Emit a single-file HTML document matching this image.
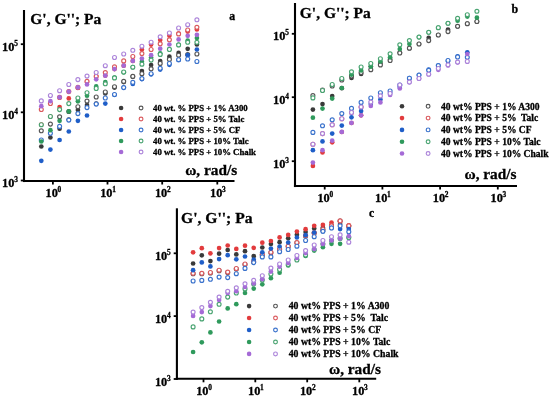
<!DOCTYPE html>
<html><head><meta charset="utf-8"><style>
html,body{margin:0;padding:0;background:#fff;}
svg{display:block;will-change:transform;}
text{font-family:"Liberation Serif", serif;font-weight:bold;fill:#000;stroke:#000;stroke-width:0.3px;}
</style></head><body>
<svg width="550" height="398" viewBox="0 0 550 398">
<circle cx="41.3" cy="146.5" r="2.35" fill="#3a3a3a"/>
<circle cx="50.4" cy="137.5" r="2.35" fill="#3a3a3a"/>
<circle cx="59.6" cy="128.7" r="2.35" fill="#3a3a3a"/>
<circle cx="68.8" cy="119.5" r="2.35" fill="#3a3a3a"/>
<circle cx="77.9" cy="110.1" r="2.35" fill="#3a3a3a"/>
<circle cx="87.0" cy="105.1" r="2.35" fill="#3a3a3a"/>
<circle cx="96.2" cy="103.5" r="2.35" fill="#3a3a3a"/>
<circle cx="105.3" cy="93.5" r="2.35" fill="#3a3a3a"/>
<circle cx="114.5" cy="87.6" r="2.35" fill="#3a3a3a"/>
<circle cx="123.7" cy="82.1" r="2.35" fill="#3a3a3a"/>
<circle cx="132.8" cy="76.6" r="2.35" fill="#3a3a3a"/>
<circle cx="141.9" cy="71.1" r="2.35" fill="#3a3a3a"/>
<circle cx="151.1" cy="65.0" r="2.35" fill="#3a3a3a"/>
<circle cx="160.2" cy="61.0" r="2.35" fill="#3a3a3a"/>
<circle cx="169.4" cy="56.7" r="2.35" fill="#3a3a3a"/>
<circle cx="178.6" cy="52.9" r="2.35" fill="#3a3a3a"/>
<circle cx="187.7" cy="48.8" r="2.35" fill="#3a3a3a"/>
<circle cx="196.9" cy="44.5" r="2.35" fill="#3a3a3a"/>
<circle cx="41.3" cy="130.8" r="1.98" fill="#fff" stroke="#555555" stroke-width="1.15"/>
<circle cx="50.4" cy="124.1" r="1.98" fill="#fff" stroke="#555555" stroke-width="1.15"/>
<circle cx="59.6" cy="116.8" r="1.98" fill="#fff" stroke="#555555" stroke-width="1.15"/>
<circle cx="68.8" cy="111.5" r="1.98" fill="#fff" stroke="#555555" stroke-width="1.15"/>
<circle cx="77.9" cy="106.7" r="1.98" fill="#fff" stroke="#555555" stroke-width="1.15"/>
<circle cx="87.0" cy="101.1" r="1.98" fill="#fff" stroke="#555555" stroke-width="1.15"/>
<circle cx="96.2" cy="97.0" r="1.98" fill="#fff" stroke="#555555" stroke-width="1.15"/>
<circle cx="105.3" cy="92.0" r="1.98" fill="#fff" stroke="#555555" stroke-width="1.15"/>
<circle cx="114.5" cy="86.7" r="1.98" fill="#fff" stroke="#555555" stroke-width="1.15"/>
<circle cx="123.7" cy="81.4" r="1.98" fill="#fff" stroke="#555555" stroke-width="1.15"/>
<circle cx="132.8" cy="76.4" r="1.98" fill="#fff" stroke="#555555" stroke-width="1.15"/>
<circle cx="141.9" cy="73.7" r="1.98" fill="#fff" stroke="#555555" stroke-width="1.15"/>
<circle cx="151.1" cy="68.8" r="1.98" fill="#fff" stroke="#555555" stroke-width="1.15"/>
<circle cx="160.2" cy="63.4" r="1.98" fill="#fff" stroke="#555555" stroke-width="1.15"/>
<circle cx="169.4" cy="59.4" r="1.98" fill="#fff" stroke="#555555" stroke-width="1.15"/>
<circle cx="178.6" cy="55.2" r="1.98" fill="#fff" stroke="#555555" stroke-width="1.15"/>
<circle cx="187.7" cy="54.6" r="1.98" fill="#fff" stroke="#555555" stroke-width="1.15"/>
<circle cx="196.9" cy="54.0" r="1.98" fill="#fff" stroke="#555555" stroke-width="1.15"/>
<circle cx="41.3" cy="124.7" r="2.35" fill="#e23b3d"/>
<circle cx="50.4" cy="116.5" r="2.35" fill="#e23b3d"/>
<circle cx="59.6" cy="107.0" r="2.35" fill="#e23b3d"/>
<circle cx="68.8" cy="98.4" r="2.35" fill="#e23b3d"/>
<circle cx="77.9" cy="88.0" r="2.35" fill="#e23b3d"/>
<circle cx="87.0" cy="82.0" r="2.35" fill="#e23b3d"/>
<circle cx="96.2" cy="76.1" r="2.35" fill="#e23b3d"/>
<circle cx="105.3" cy="75.6" r="2.35" fill="#e23b3d"/>
<circle cx="114.5" cy="69.1" r="2.35" fill="#e23b3d"/>
<circle cx="123.7" cy="65.7" r="2.35" fill="#e23b3d"/>
<circle cx="132.8" cy="60.9" r="2.35" fill="#e23b3d"/>
<circle cx="141.9" cy="49.5" r="2.35" fill="#e23b3d"/>
<circle cx="151.1" cy="44.6" r="2.35" fill="#e23b3d"/>
<circle cx="160.2" cy="40.0" r="2.35" fill="#e23b3d"/>
<circle cx="169.4" cy="35.7" r="2.35" fill="#e23b3d"/>
<circle cx="178.6" cy="33.6" r="2.35" fill="#e23b3d"/>
<circle cx="187.7" cy="31.6" r="2.35" fill="#e23b3d"/>
<circle cx="196.9" cy="29.5" r="2.35" fill="#e23b3d"/>
<circle cx="41.3" cy="109.5" r="1.98" fill="#fff" stroke="#da5a5e" stroke-width="1.15"/>
<circle cx="50.4" cy="103.5" r="1.98" fill="#fff" stroke="#da5a5e" stroke-width="1.15"/>
<circle cx="59.6" cy="97.4" r="1.98" fill="#fff" stroke="#da5a5e" stroke-width="1.15"/>
<circle cx="68.8" cy="91.6" r="1.98" fill="#fff" stroke="#da5a5e" stroke-width="1.15"/>
<circle cx="77.9" cy="87.4" r="1.98" fill="#fff" stroke="#da5a5e" stroke-width="1.15"/>
<circle cx="87.0" cy="81.3" r="1.98" fill="#fff" stroke="#da5a5e" stroke-width="1.15"/>
<circle cx="96.2" cy="76.5" r="1.98" fill="#fff" stroke="#da5a5e" stroke-width="1.15"/>
<circle cx="105.3" cy="72.6" r="1.98" fill="#fff" stroke="#da5a5e" stroke-width="1.15"/>
<circle cx="114.5" cy="66.8" r="1.98" fill="#fff" stroke="#da5a5e" stroke-width="1.15"/>
<circle cx="123.7" cy="60.9" r="1.98" fill="#fff" stroke="#da5a5e" stroke-width="1.15"/>
<circle cx="132.8" cy="56.5" r="1.98" fill="#fff" stroke="#da5a5e" stroke-width="1.15"/>
<circle cx="141.9" cy="53.6" r="1.98" fill="#fff" stroke="#da5a5e" stroke-width="1.15"/>
<circle cx="151.1" cy="49.5" r="1.98" fill="#fff" stroke="#da5a5e" stroke-width="1.15"/>
<circle cx="160.2" cy="43.8" r="1.98" fill="#fff" stroke="#da5a5e" stroke-width="1.15"/>
<circle cx="169.4" cy="39.8" r="1.98" fill="#fff" stroke="#da5a5e" stroke-width="1.15"/>
<circle cx="178.6" cy="33.9" r="1.98" fill="#fff" stroke="#da5a5e" stroke-width="1.15"/>
<circle cx="187.7" cy="30.0" r="1.98" fill="#fff" stroke="#da5a5e" stroke-width="1.15"/>
<circle cx="196.9" cy="27.3" r="1.98" fill="#fff" stroke="#da5a5e" stroke-width="1.15"/>
<circle cx="41.3" cy="160.8" r="2.35" fill="#1f5ec8"/>
<circle cx="50.4" cy="149.6" r="2.35" fill="#1f5ec8"/>
<circle cx="59.6" cy="140.0" r="2.35" fill="#1f5ec8"/>
<circle cx="68.8" cy="131.5" r="2.35" fill="#1f5ec8"/>
<circle cx="77.9" cy="120.8" r="2.35" fill="#1f5ec8"/>
<circle cx="87.0" cy="115.5" r="2.35" fill="#1f5ec8"/>
<circle cx="96.2" cy="104.1" r="2.35" fill="#1f5ec8"/>
<circle cx="105.3" cy="103.6" r="2.35" fill="#1f5ec8"/>
<circle cx="114.5" cy="94.8" r="2.35" fill="#1f5ec8"/>
<circle cx="123.7" cy="87.6" r="2.35" fill="#1f5ec8"/>
<circle cx="132.8" cy="83.9" r="2.35" fill="#1f5ec8"/>
<circle cx="141.9" cy="79.1" r="2.35" fill="#1f5ec8"/>
<circle cx="151.1" cy="74.3" r="2.35" fill="#1f5ec8"/>
<circle cx="160.2" cy="69.6" r="2.35" fill="#1f5ec8"/>
<circle cx="169.4" cy="64.8" r="2.35" fill="#1f5ec8"/>
<circle cx="178.6" cy="60.0" r="2.35" fill="#1f5ec8"/>
<circle cx="187.7" cy="55.2" r="2.35" fill="#1f5ec8"/>
<circle cx="196.9" cy="49.5" r="2.35" fill="#1f5ec8"/>
<circle cx="41.3" cy="140.0" r="1.98" fill="#fff" stroke="#3a72cc" stroke-width="1.15"/>
<circle cx="50.4" cy="133.3" r="1.98" fill="#fff" stroke="#3a72cc" stroke-width="1.15"/>
<circle cx="59.6" cy="126.4" r="1.98" fill="#fff" stroke="#3a72cc" stroke-width="1.15"/>
<circle cx="68.8" cy="120.1" r="1.98" fill="#fff" stroke="#3a72cc" stroke-width="1.15"/>
<circle cx="77.9" cy="113.6" r="1.98" fill="#fff" stroke="#3a72cc" stroke-width="1.15"/>
<circle cx="87.0" cy="107.6" r="1.98" fill="#fff" stroke="#3a72cc" stroke-width="1.15"/>
<circle cx="96.2" cy="104.0" r="1.98" fill="#fff" stroke="#3a72cc" stroke-width="1.15"/>
<circle cx="105.3" cy="98.0" r="1.98" fill="#fff" stroke="#3a72cc" stroke-width="1.15"/>
<circle cx="114.5" cy="94.5" r="1.98" fill="#fff" stroke="#3a72cc" stroke-width="1.15"/>
<circle cx="123.7" cy="87.6" r="1.98" fill="#fff" stroke="#3a72cc" stroke-width="1.15"/>
<circle cx="132.8" cy="82.4" r="1.98" fill="#fff" stroke="#3a72cc" stroke-width="1.15"/>
<circle cx="141.9" cy="78.6" r="1.98" fill="#fff" stroke="#3a72cc" stroke-width="1.15"/>
<circle cx="151.1" cy="73.7" r="1.98" fill="#fff" stroke="#3a72cc" stroke-width="1.15"/>
<circle cx="160.2" cy="68.3" r="1.98" fill="#fff" stroke="#3a72cc" stroke-width="1.15"/>
<circle cx="169.4" cy="63.5" r="1.98" fill="#fff" stroke="#3a72cc" stroke-width="1.15"/>
<circle cx="178.6" cy="59.7" r="1.98" fill="#fff" stroke="#3a72cc" stroke-width="1.15"/>
<circle cx="187.7" cy="59.0" r="1.98" fill="#fff" stroke="#3a72cc" stroke-width="1.15"/>
<circle cx="196.9" cy="61.5" r="1.98" fill="#fff" stroke="#3a72cc" stroke-width="1.15"/>
<circle cx="41.3" cy="141.5" r="2.35" fill="#2f9a5c"/>
<circle cx="50.4" cy="130.2" r="2.35" fill="#2f9a5c"/>
<circle cx="59.6" cy="120.8" r="2.35" fill="#2f9a5c"/>
<circle cx="68.8" cy="111.4" r="2.35" fill="#2f9a5c"/>
<circle cx="77.9" cy="101.3" r="2.35" fill="#2f9a5c"/>
<circle cx="87.0" cy="95.7" r="2.35" fill="#2f9a5c"/>
<circle cx="96.2" cy="86.4" r="2.35" fill="#2f9a5c"/>
<circle cx="105.3" cy="82.0" r="2.35" fill="#2f9a5c"/>
<circle cx="114.5" cy="77.6" r="2.35" fill="#2f9a5c"/>
<circle cx="123.7" cy="72.3" r="2.35" fill="#2f9a5c"/>
<circle cx="132.8" cy="67.1" r="2.35" fill="#2f9a5c"/>
<circle cx="141.9" cy="61.8" r="2.35" fill="#2f9a5c"/>
<circle cx="151.1" cy="57.5" r="2.35" fill="#2f9a5c"/>
<circle cx="160.2" cy="53.3" r="2.35" fill="#2f9a5c"/>
<circle cx="169.4" cy="49.0" r="2.35" fill="#2f9a5c"/>
<circle cx="178.6" cy="44.8" r="2.35" fill="#2f9a5c"/>
<circle cx="187.7" cy="40.5" r="2.35" fill="#2f9a5c"/>
<circle cx="196.9" cy="38.0" r="2.35" fill="#2f9a5c"/>
<circle cx="41.3" cy="124.7" r="1.98" fill="#fff" stroke="#4aa472" stroke-width="1.15"/>
<circle cx="50.4" cy="116.5" r="1.98" fill="#fff" stroke="#4aa472" stroke-width="1.15"/>
<circle cx="59.6" cy="109.6" r="1.98" fill="#fff" stroke="#4aa472" stroke-width="1.15"/>
<circle cx="68.8" cy="103.6" r="1.98" fill="#fff" stroke="#4aa472" stroke-width="1.15"/>
<circle cx="77.9" cy="98.0" r="1.98" fill="#fff" stroke="#4aa472" stroke-width="1.15"/>
<circle cx="87.0" cy="92.7" r="1.98" fill="#fff" stroke="#4aa472" stroke-width="1.15"/>
<circle cx="96.2" cy="88.5" r="1.98" fill="#fff" stroke="#4aa472" stroke-width="1.15"/>
<circle cx="105.3" cy="83.8" r="1.98" fill="#fff" stroke="#4aa472" stroke-width="1.15"/>
<circle cx="114.5" cy="77.9" r="1.98" fill="#fff" stroke="#4aa472" stroke-width="1.15"/>
<circle cx="123.7" cy="72.0" r="1.98" fill="#fff" stroke="#4aa472" stroke-width="1.15"/>
<circle cx="132.8" cy="67.2" r="1.98" fill="#fff" stroke="#4aa472" stroke-width="1.15"/>
<circle cx="141.9" cy="64.2" r="1.98" fill="#fff" stroke="#4aa472" stroke-width="1.15"/>
<circle cx="151.1" cy="60.1" r="1.98" fill="#fff" stroke="#4aa472" stroke-width="1.15"/>
<circle cx="160.2" cy="54.4" r="1.98" fill="#fff" stroke="#4aa472" stroke-width="1.15"/>
<circle cx="169.4" cy="49.5" r="1.98" fill="#fff" stroke="#4aa472" stroke-width="1.15"/>
<circle cx="178.6" cy="44.9" r="1.98" fill="#fff" stroke="#4aa472" stroke-width="1.15"/>
<circle cx="187.7" cy="42.3" r="1.98" fill="#fff" stroke="#4aa472" stroke-width="1.15"/>
<circle cx="196.9" cy="42.3" r="1.98" fill="#fff" stroke="#4aa472" stroke-width="1.15"/>
<circle cx="41.3" cy="106.2" r="2.35" fill="#a56ad6"/>
<circle cx="50.4" cy="101.2" r="2.35" fill="#a56ad6"/>
<circle cx="59.6" cy="97.3" r="2.35" fill="#a56ad6"/>
<circle cx="68.8" cy="91.6" r="2.35" fill="#a56ad6"/>
<circle cx="77.9" cy="87.4" r="2.35" fill="#a56ad6"/>
<circle cx="87.0" cy="84.4" r="2.35" fill="#a56ad6"/>
<circle cx="96.2" cy="79.3" r="2.35" fill="#a56ad6"/>
<circle cx="105.3" cy="75.7" r="2.35" fill="#a56ad6"/>
<circle cx="114.5" cy="69.1" r="2.35" fill="#a56ad6"/>
<circle cx="123.7" cy="65.7" r="2.35" fill="#a56ad6"/>
<circle cx="132.8" cy="60.9" r="2.35" fill="#a56ad6"/>
<circle cx="141.9" cy="58.5" r="2.35" fill="#a56ad6"/>
<circle cx="151.1" cy="55.2" r="2.35" fill="#a56ad6"/>
<circle cx="160.2" cy="48.7" r="2.35" fill="#a56ad6"/>
<circle cx="169.4" cy="44.5" r="2.35" fill="#a56ad6"/>
<circle cx="178.6" cy="39.4" r="2.35" fill="#a56ad6"/>
<circle cx="187.7" cy="35.8" r="2.35" fill="#a56ad6"/>
<circle cx="196.9" cy="34.8" r="2.35" fill="#a56ad6"/>
<circle cx="41.3" cy="100.9" r="1.98" fill="#fff" stroke="#ac84da" stroke-width="1.15"/>
<circle cx="50.4" cy="95.5" r="1.98" fill="#fff" stroke="#ac84da" stroke-width="1.15"/>
<circle cx="59.6" cy="90.7" r="1.98" fill="#fff" stroke="#ac84da" stroke-width="1.15"/>
<circle cx="68.8" cy="84.5" r="1.98" fill="#fff" stroke="#ac84da" stroke-width="1.15"/>
<circle cx="77.9" cy="79.6" r="1.98" fill="#fff" stroke="#ac84da" stroke-width="1.15"/>
<circle cx="87.0" cy="76.1" r="1.98" fill="#fff" stroke="#ac84da" stroke-width="1.15"/>
<circle cx="96.2" cy="72.5" r="1.98" fill="#fff" stroke="#ac84da" stroke-width="1.15"/>
<circle cx="105.3" cy="65.7" r="1.98" fill="#fff" stroke="#ac84da" stroke-width="1.15"/>
<circle cx="114.5" cy="57.5" r="1.98" fill="#fff" stroke="#ac84da" stroke-width="1.15"/>
<circle cx="123.7" cy="54.0" r="1.98" fill="#fff" stroke="#ac84da" stroke-width="1.15"/>
<circle cx="132.8" cy="50.3" r="1.98" fill="#fff" stroke="#ac84da" stroke-width="1.15"/>
<circle cx="141.9" cy="46.2" r="1.98" fill="#fff" stroke="#ac84da" stroke-width="1.15"/>
<circle cx="151.1" cy="42.2" r="1.98" fill="#fff" stroke="#ac84da" stroke-width="1.15"/>
<circle cx="160.2" cy="36.8" r="1.98" fill="#fff" stroke="#ac84da" stroke-width="1.15"/>
<circle cx="169.4" cy="33.0" r="1.98" fill="#fff" stroke="#ac84da" stroke-width="1.15"/>
<circle cx="178.6" cy="28.0" r="1.98" fill="#fff" stroke="#ac84da" stroke-width="1.15"/>
<circle cx="187.7" cy="24.7" r="1.98" fill="#fff" stroke="#ac84da" stroke-width="1.15"/>
<circle cx="196.9" cy="19.8" r="1.98" fill="#fff" stroke="#ac84da" stroke-width="1.15"/>
<line x1="24" y1="10" x2="24" y2="182.05" stroke="#000" stroke-width="2.1"/>
<line x1="22.95" y1="181" x2="234.5" y2="181" stroke="#000" stroke-width="2.1"/>
<line x1="20.8" y1="44.2" x2="24" y2="44.2" stroke="#000" stroke-width="1.8"/>
<text x="2" y="50.800000000000004" font-size="12.3" text-anchor="start" xml:space="preserve">10</text>
<text x="14.2" y="45.800000000000004" font-size="7.4" text-anchor="start" xml:space="preserve">5</text>
<line x1="20.8" y1="112.3" x2="24" y2="112.3" stroke="#000" stroke-width="1.8"/>
<text x="2" y="118.89999999999999" font-size="12.3" text-anchor="start" xml:space="preserve">10</text>
<text x="14.2" y="113.89999999999999" font-size="7.4" text-anchor="start" xml:space="preserve">4</text>
<line x1="20.8" y1="180.5" x2="24" y2="180.5" stroke="#000" stroke-width="1.8"/>
<text x="2" y="187.1" font-size="12.3" text-anchor="start" xml:space="preserve">10</text>
<text x="14.2" y="182.1" font-size="7.4" text-anchor="start" xml:space="preserve">3</text>
<line x1="52.9" y1="181" x2="52.9" y2="184.5" stroke="#000" stroke-width="1.8"/>
<text x="45.6" y="197.1" font-size="12.3" text-anchor="start" xml:space="preserve">10</text>
<text x="57.6" y="192.1" font-size="7.4" text-anchor="start" xml:space="preserve">0</text>
<line x1="107.5" y1="181" x2="107.5" y2="184.5" stroke="#000" stroke-width="1.8"/>
<text x="100.2" y="197.1" font-size="12.3" text-anchor="start" xml:space="preserve">10</text>
<text x="112.2" y="192.1" font-size="7.4" text-anchor="start" xml:space="preserve">1</text>
<line x1="162.2" y1="181" x2="162.2" y2="184.5" stroke="#000" stroke-width="1.8"/>
<text x="154.89999999999998" y="197.1" font-size="12.3" text-anchor="start" xml:space="preserve">10</text>
<text x="166.89999999999998" y="192.1" font-size="7.4" text-anchor="start" xml:space="preserve">2</text>
<line x1="217.3" y1="181" x2="217.3" y2="184.5" stroke="#000" stroke-width="1.8"/>
<text x="210.0" y="197.1" font-size="12.3" text-anchor="start" xml:space="preserve">10</text>
<text x="222.0" y="192.1" font-size="7.4" text-anchor="start" xml:space="preserve">3</text>
<text x="30.3" y="24.2" font-size="15.5" text-anchor="start" xml:space="preserve">G', G''; Pa</text>
<text x="229.3" y="19.9" font-size="11.8" text-anchor="start" xml:space="preserve">a</text>
<text x="185.2" y="175.4" font-size="15.3" text-anchor="start" xml:space="preserve">ω, rad/s</text>
<circle cx="121.1" cy="108.0" r="2.3" fill="#3a3a3a"/>
<circle cx="141.05" cy="108.0" r="1.9" fill="#fff" stroke="#555555" stroke-width="1.15"/>
<text x="153.0" y="111.2" font-size="8.75" text-anchor="start" xml:space="preserve">40 wt. % PPS + 1% A300</text>
<circle cx="121.1" cy="119.0" r="2.3" fill="#e23b3d"/>
<circle cx="141.05" cy="119.0" r="1.9" fill="#fff" stroke="#da5a5e" stroke-width="1.15"/>
<text x="153.0" y="122.2" font-size="8.75" text-anchor="start" xml:space="preserve">40 wt. % PPS + 5% Talc</text>
<circle cx="121.1" cy="130.0" r="2.3" fill="#1f5ec8"/>
<circle cx="141.05" cy="130.0" r="1.9" fill="#fff" stroke="#3a72cc" stroke-width="1.15"/>
<text x="153.0" y="133.2" font-size="8.75" text-anchor="start" xml:space="preserve">40 wt. % PPS + 5% CF</text>
<circle cx="121.1" cy="141.0" r="2.3" fill="#2f9a5c"/>
<circle cx="141.05" cy="141.0" r="1.9" fill="#fff" stroke="#4aa472" stroke-width="1.15"/>
<text x="153.0" y="144.2" font-size="8.75" text-anchor="start" xml:space="preserve">40 wt. % PPS + 10% Talc</text>
<circle cx="121.1" cy="152.0" r="2.3" fill="#a56ad6"/>
<circle cx="141.05" cy="152.0" r="1.9" fill="#fff" stroke="#ac84da" stroke-width="1.15"/>
<text x="153.0" y="155.2" font-size="8.75" text-anchor="start" xml:space="preserve">40 wt. % PPS + 10% Chalk</text>
<circle cx="312.9" cy="109.6" r="2.35" fill="#3a3a3a"/>
<circle cx="322.5" cy="104.1" r="2.35" fill="#3a3a3a"/>
<circle cx="332.2" cy="96.1" r="2.35" fill="#3a3a3a"/>
<circle cx="341.8" cy="88.2" r="2.35" fill="#3a3a3a"/>
<circle cx="351.5" cy="78.0" r="2.35" fill="#3a3a3a"/>
<circle cx="361.1" cy="73.9" r="2.35" fill="#3a3a3a"/>
<circle cx="370.8" cy="66.6" r="2.35" fill="#3a3a3a"/>
<circle cx="380.4" cy="63.0" r="2.35" fill="#3a3a3a"/>
<circle cx="390.1" cy="59.0" r="2.35" fill="#3a3a3a"/>
<circle cx="399.8" cy="52.4" r="2.35" fill="#3a3a3a"/>
<circle cx="409.4" cy="48.2" r="2.35" fill="#3a3a3a"/>
<circle cx="419.0" cy="44.0" r="2.35" fill="#3a3a3a"/>
<circle cx="428.7" cy="37.8" r="2.35" fill="#3a3a3a"/>
<circle cx="438.3" cy="35.0" r="2.35" fill="#3a3a3a"/>
<circle cx="448.0" cy="29.5" r="2.35" fill="#3a3a3a"/>
<circle cx="457.6" cy="26.3" r="2.35" fill="#3a3a3a"/>
<circle cx="467.3" cy="23.7" r="2.35" fill="#3a3a3a"/>
<circle cx="476.9" cy="21.5" r="2.35" fill="#3a3a3a"/>
<circle cx="312.9" cy="95.6" r="1.98" fill="#fff" stroke="#555555" stroke-width="1.15"/>
<circle cx="322.5" cy="90.0" r="1.98" fill="#fff" stroke="#555555" stroke-width="1.15"/>
<circle cx="332.2" cy="86.0" r="1.98" fill="#fff" stroke="#555555" stroke-width="1.15"/>
<circle cx="341.8" cy="80.0" r="1.98" fill="#fff" stroke="#555555" stroke-width="1.15"/>
<circle cx="351.5" cy="76.0" r="1.98" fill="#fff" stroke="#555555" stroke-width="1.15"/>
<circle cx="361.1" cy="72.5" r="1.98" fill="#fff" stroke="#555555" stroke-width="1.15"/>
<circle cx="370.8" cy="69.7" r="1.98" fill="#fff" stroke="#555555" stroke-width="1.15"/>
<circle cx="380.4" cy="64.9" r="1.98" fill="#fff" stroke="#555555" stroke-width="1.15"/>
<circle cx="390.1" cy="60.5" r="1.98" fill="#fff" stroke="#555555" stroke-width="1.15"/>
<circle cx="399.8" cy="53.0" r="1.98" fill="#fff" stroke="#555555" stroke-width="1.15"/>
<circle cx="409.4" cy="48.2" r="1.98" fill="#fff" stroke="#555555" stroke-width="1.15"/>
<circle cx="419.0" cy="44.0" r="1.98" fill="#fff" stroke="#555555" stroke-width="1.15"/>
<circle cx="428.7" cy="40.6" r="1.98" fill="#fff" stroke="#555555" stroke-width="1.15"/>
<circle cx="438.3" cy="35.0" r="1.98" fill="#fff" stroke="#555555" stroke-width="1.15"/>
<circle cx="448.0" cy="31.6" r="1.98" fill="#fff" stroke="#555555" stroke-width="1.15"/>
<circle cx="457.6" cy="26.3" r="1.98" fill="#fff" stroke="#555555" stroke-width="1.15"/>
<circle cx="467.3" cy="23.7" r="1.98" fill="#fff" stroke="#555555" stroke-width="1.15"/>
<circle cx="476.9" cy="21.5" r="1.98" fill="#fff" stroke="#555555" stroke-width="1.15"/>
<circle cx="312.9" cy="165.9" r="2.35" fill="#e23b3d"/>
<circle cx="322.5" cy="152.5" r="2.35" fill="#e23b3d"/>
<circle cx="332.2" cy="142.3" r="2.35" fill="#e23b3d"/>
<circle cx="341.8" cy="132.0" r="2.35" fill="#e23b3d"/>
<circle cx="351.5" cy="123.0" r="2.35" fill="#e23b3d"/>
<circle cx="361.1" cy="115.3" r="2.35" fill="#e23b3d"/>
<circle cx="312.9" cy="144.2" r="1.98" fill="#fff" stroke="#da5a5e" stroke-width="1.15"/>
<circle cx="322.5" cy="133.6" r="1.98" fill="#fff" stroke="#da5a5e" stroke-width="1.15"/>
<circle cx="332.2" cy="124.8" r="1.98" fill="#fff" stroke="#da5a5e" stroke-width="1.15"/>
<circle cx="341.8" cy="118.7" r="1.98" fill="#fff" stroke="#da5a5e" stroke-width="1.15"/>
<circle cx="351.5" cy="112.5" r="1.98" fill="#fff" stroke="#da5a5e" stroke-width="1.15"/>
<circle cx="361.1" cy="107.0" r="1.98" fill="#fff" stroke="#da5a5e" stroke-width="1.15"/>
<circle cx="312.9" cy="150.2" r="2.35" fill="#1f5ec8"/>
<circle cx="322.5" cy="141.4" r="2.35" fill="#1f5ec8"/>
<circle cx="332.2" cy="133.6" r="2.35" fill="#1f5ec8"/>
<circle cx="341.8" cy="125.6" r="2.35" fill="#1f5ec8"/>
<circle cx="351.5" cy="117.3" r="2.35" fill="#1f5ec8"/>
<circle cx="361.1" cy="111.1" r="2.35" fill="#1f5ec8"/>
<circle cx="370.8" cy="104.0" r="2.35" fill="#1f5ec8"/>
<circle cx="380.4" cy="99.4" r="2.35" fill="#1f5ec8"/>
<circle cx="390.1" cy="93.0" r="2.35" fill="#1f5ec8"/>
<circle cx="399.8" cy="87.0" r="2.35" fill="#1f5ec8"/>
<circle cx="409.4" cy="78.2" r="2.35" fill="#1f5ec8"/>
<circle cx="419.0" cy="75.1" r="2.35" fill="#1f5ec8"/>
<circle cx="428.7" cy="69.6" r="2.35" fill="#1f5ec8"/>
<circle cx="438.3" cy="65.7" r="2.35" fill="#1f5ec8"/>
<circle cx="448.0" cy="60.9" r="2.35" fill="#1f5ec8"/>
<circle cx="457.6" cy="56.3" r="2.35" fill="#1f5ec8"/>
<circle cx="467.3" cy="52.3" r="2.35" fill="#1f5ec8"/>
<circle cx="312.9" cy="132.4" r="1.98" fill="#fff" stroke="#3a72cc" stroke-width="1.15"/>
<circle cx="322.5" cy="125.8" r="1.98" fill="#fff" stroke="#3a72cc" stroke-width="1.15"/>
<circle cx="332.2" cy="119.8" r="1.98" fill="#fff" stroke="#3a72cc" stroke-width="1.15"/>
<circle cx="341.8" cy="113.6" r="1.98" fill="#fff" stroke="#3a72cc" stroke-width="1.15"/>
<circle cx="351.5" cy="108.4" r="1.98" fill="#fff" stroke="#3a72cc" stroke-width="1.15"/>
<circle cx="361.1" cy="102.4" r="1.98" fill="#fff" stroke="#3a72cc" stroke-width="1.15"/>
<circle cx="370.8" cy="98.0" r="1.98" fill="#fff" stroke="#3a72cc" stroke-width="1.15"/>
<circle cx="380.4" cy="92.7" r="1.98" fill="#fff" stroke="#3a72cc" stroke-width="1.15"/>
<circle cx="390.1" cy="91.0" r="1.98" fill="#fff" stroke="#3a72cc" stroke-width="1.15"/>
<circle cx="399.8" cy="85.0" r="1.98" fill="#fff" stroke="#3a72cc" stroke-width="1.15"/>
<circle cx="409.4" cy="78.2" r="1.98" fill="#fff" stroke="#3a72cc" stroke-width="1.15"/>
<circle cx="419.0" cy="75.1" r="1.98" fill="#fff" stroke="#3a72cc" stroke-width="1.15"/>
<circle cx="428.7" cy="70.3" r="1.98" fill="#fff" stroke="#3a72cc" stroke-width="1.15"/>
<circle cx="438.3" cy="65.6" r="1.98" fill="#fff" stroke="#3a72cc" stroke-width="1.15"/>
<circle cx="448.0" cy="60.5" r="1.98" fill="#fff" stroke="#3a72cc" stroke-width="1.15"/>
<circle cx="457.6" cy="57.0" r="1.98" fill="#fff" stroke="#3a72cc" stroke-width="1.15"/>
<circle cx="467.3" cy="57.3" r="1.98" fill="#fff" stroke="#3a72cc" stroke-width="1.15"/>
<circle cx="312.9" cy="117.7" r="2.35" fill="#2f9a5c"/>
<circle cx="322.5" cy="108.6" r="2.35" fill="#2f9a5c"/>
<circle cx="332.2" cy="98.6" r="2.35" fill="#2f9a5c"/>
<circle cx="341.8" cy="88.0" r="2.35" fill="#2f9a5c"/>
<circle cx="351.5" cy="74.6" r="2.35" fill="#2f9a5c"/>
<circle cx="361.1" cy="70.4" r="2.35" fill="#2f9a5c"/>
<circle cx="370.8" cy="66.6" r="2.35" fill="#2f9a5c"/>
<circle cx="380.4" cy="61.4" r="2.35" fill="#2f9a5c"/>
<circle cx="390.1" cy="57.3" r="2.35" fill="#2f9a5c"/>
<circle cx="399.8" cy="49.0" r="2.35" fill="#2f9a5c"/>
<circle cx="409.4" cy="44.0" r="2.35" fill="#2f9a5c"/>
<circle cx="419.0" cy="37.1" r="2.35" fill="#2f9a5c"/>
<circle cx="428.7" cy="32.3" r="2.35" fill="#2f9a5c"/>
<circle cx="438.3" cy="27.7" r="2.35" fill="#2f9a5c"/>
<circle cx="448.0" cy="23.3" r="2.35" fill="#2f9a5c"/>
<circle cx="457.6" cy="20.7" r="2.35" fill="#2f9a5c"/>
<circle cx="467.3" cy="16.6" r="2.35" fill="#2f9a5c"/>
<circle cx="476.9" cy="17.7" r="2.35" fill="#2f9a5c"/>
<circle cx="312.9" cy="97.9" r="1.98" fill="#fff" stroke="#4aa472" stroke-width="1.15"/>
<circle cx="322.5" cy="90.5" r="1.98" fill="#fff" stroke="#4aa472" stroke-width="1.15"/>
<circle cx="332.2" cy="84.5" r="1.98" fill="#fff" stroke="#4aa472" stroke-width="1.15"/>
<circle cx="341.8" cy="78.5" r="1.98" fill="#fff" stroke="#4aa472" stroke-width="1.15"/>
<circle cx="351.5" cy="71.8" r="1.98" fill="#fff" stroke="#4aa472" stroke-width="1.15"/>
<circle cx="361.1" cy="67.0" r="1.98" fill="#fff" stroke="#4aa472" stroke-width="1.15"/>
<circle cx="370.8" cy="63.5" r="1.98" fill="#fff" stroke="#4aa472" stroke-width="1.15"/>
<circle cx="380.4" cy="58.7" r="1.98" fill="#fff" stroke="#4aa472" stroke-width="1.15"/>
<circle cx="390.1" cy="53.8" r="1.98" fill="#fff" stroke="#4aa472" stroke-width="1.15"/>
<circle cx="399.8" cy="44.8" r="1.98" fill="#fff" stroke="#4aa472" stroke-width="1.15"/>
<circle cx="409.4" cy="40.6" r="1.98" fill="#fff" stroke="#4aa472" stroke-width="1.15"/>
<circle cx="419.0" cy="37.1" r="1.98" fill="#fff" stroke="#4aa472" stroke-width="1.15"/>
<circle cx="428.7" cy="32.3" r="1.98" fill="#fff" stroke="#4aa472" stroke-width="1.15"/>
<circle cx="438.3" cy="27.7" r="1.98" fill="#fff" stroke="#4aa472" stroke-width="1.15"/>
<circle cx="448.0" cy="23.3" r="1.98" fill="#fff" stroke="#4aa472" stroke-width="1.15"/>
<circle cx="457.6" cy="18.3" r="1.98" fill="#fff" stroke="#4aa472" stroke-width="1.15"/>
<circle cx="467.3" cy="14.7" r="1.98" fill="#fff" stroke="#4aa472" stroke-width="1.15"/>
<circle cx="476.9" cy="11.3" r="1.98" fill="#fff" stroke="#4aa472" stroke-width="1.15"/>
<circle cx="312.9" cy="162.6" r="2.35" fill="#a56ad6"/>
<circle cx="322.5" cy="150.2" r="2.35" fill="#a56ad6"/>
<circle cx="332.2" cy="140.7" r="2.35" fill="#a56ad6"/>
<circle cx="341.8" cy="131.9" r="2.35" fill="#a56ad6"/>
<circle cx="351.5" cy="122.9" r="2.35" fill="#a56ad6"/>
<circle cx="361.1" cy="115.3" r="2.35" fill="#a56ad6"/>
<circle cx="370.8" cy="106.0" r="2.35" fill="#a56ad6"/>
<circle cx="380.4" cy="102.4" r="2.35" fill="#a56ad6"/>
<circle cx="390.1" cy="95.0" r="2.35" fill="#a56ad6"/>
<circle cx="399.8" cy="88.4" r="2.35" fill="#a56ad6"/>
<circle cx="409.4" cy="82.1" r="2.35" fill="#a56ad6"/>
<circle cx="419.0" cy="78.5" r="2.35" fill="#a56ad6"/>
<circle cx="428.7" cy="74.2" r="2.35" fill="#a56ad6"/>
<circle cx="438.3" cy="69.8" r="2.35" fill="#a56ad6"/>
<circle cx="448.0" cy="65.5" r="2.35" fill="#a56ad6"/>
<circle cx="457.6" cy="62.3" r="2.35" fill="#a56ad6"/>
<circle cx="467.3" cy="54.0" r="2.35" fill="#a56ad6"/>
<circle cx="312.9" cy="144.2" r="1.98" fill="#fff" stroke="#ac84da" stroke-width="1.15"/>
<circle cx="322.5" cy="133.6" r="1.98" fill="#fff" stroke="#ac84da" stroke-width="1.15"/>
<circle cx="332.2" cy="124.8" r="1.98" fill="#fff" stroke="#ac84da" stroke-width="1.15"/>
<circle cx="341.8" cy="118.7" r="1.98" fill="#fff" stroke="#ac84da" stroke-width="1.15"/>
<circle cx="351.5" cy="112.5" r="1.98" fill="#fff" stroke="#ac84da" stroke-width="1.15"/>
<circle cx="361.1" cy="107.0" r="1.98" fill="#fff" stroke="#ac84da" stroke-width="1.15"/>
<circle cx="370.8" cy="102.1" r="1.98" fill="#fff" stroke="#ac84da" stroke-width="1.15"/>
<circle cx="380.4" cy="95.9" r="1.98" fill="#fff" stroke="#ac84da" stroke-width="1.15"/>
<circle cx="390.1" cy="93.5" r="1.98" fill="#fff" stroke="#ac84da" stroke-width="1.15"/>
<circle cx="399.8" cy="85.0" r="1.98" fill="#fff" stroke="#ac84da" stroke-width="1.15"/>
<circle cx="409.4" cy="82.1" r="1.98" fill="#fff" stroke="#ac84da" stroke-width="1.15"/>
<circle cx="419.0" cy="78.5" r="1.98" fill="#fff" stroke="#ac84da" stroke-width="1.15"/>
<circle cx="428.7" cy="74.2" r="1.98" fill="#fff" stroke="#ac84da" stroke-width="1.15"/>
<circle cx="438.3" cy="68.5" r="1.98" fill="#fff" stroke="#ac84da" stroke-width="1.15"/>
<circle cx="448.0" cy="64.8" r="1.98" fill="#fff" stroke="#ac84da" stroke-width="1.15"/>
<circle cx="457.6" cy="62.1" r="1.98" fill="#fff" stroke="#ac84da" stroke-width="1.15"/>
<circle cx="467.3" cy="61.4" r="1.98" fill="#fff" stroke="#ac84da" stroke-width="1.15"/>
<line x1="295" y1="3" x2="295" y2="187.05" stroke="#000" stroke-width="2.1"/>
<line x1="293.95" y1="186" x2="517" y2="186" stroke="#000" stroke-width="2.1"/>
<line x1="291.8" y1="33.8" x2="295" y2="33.8" stroke="#000" stroke-width="1.8"/>
<text x="273" y="40.4" font-size="12.3" text-anchor="start" xml:space="preserve">10</text>
<text x="285.2" y="35.4" font-size="7.4" text-anchor="start" xml:space="preserve">5</text>
<line x1="291.8" y1="97.2" x2="295" y2="97.2" stroke="#000" stroke-width="1.8"/>
<text x="273" y="103.8" font-size="12.3" text-anchor="start" xml:space="preserve">10</text>
<text x="285.2" y="98.8" font-size="7.4" text-anchor="start" xml:space="preserve">4</text>
<line x1="291.8" y1="161.2" x2="295" y2="161.2" stroke="#000" stroke-width="1.8"/>
<text x="273" y="167.79999999999998" font-size="12.3" text-anchor="start" xml:space="preserve">10</text>
<text x="285.2" y="162.79999999999998" font-size="7.4" text-anchor="start" xml:space="preserve">3</text>
<line x1="324.7" y1="186" x2="324.7" y2="189.5" stroke="#000" stroke-width="1.8"/>
<text x="317.4" y="202.4" font-size="12.3" text-anchor="start" xml:space="preserve">10</text>
<text x="329.4" y="197.4" font-size="7.4" text-anchor="start" xml:space="preserve">0</text>
<line x1="382.4" y1="186" x2="382.4" y2="189.5" stroke="#000" stroke-width="1.8"/>
<text x="375.09999999999997" y="202.4" font-size="12.3" text-anchor="start" xml:space="preserve">10</text>
<text x="387.09999999999997" y="197.4" font-size="7.4" text-anchor="start" xml:space="preserve">1</text>
<line x1="440.1" y1="186" x2="440.1" y2="189.5" stroke="#000" stroke-width="1.8"/>
<text x="432.8" y="202.4" font-size="12.3" text-anchor="start" xml:space="preserve">10</text>
<text x="444.8" y="197.4" font-size="7.4" text-anchor="start" xml:space="preserve">2</text>
<line x1="497.8" y1="186" x2="497.8" y2="189.5" stroke="#000" stroke-width="1.8"/>
<text x="490.5" y="202.4" font-size="12.3" text-anchor="start" xml:space="preserve">10</text>
<text x="502.5" y="197.4" font-size="7.4" text-anchor="start" xml:space="preserve">3</text>
<text x="299.8" y="18.3" font-size="15.5" text-anchor="start" xml:space="preserve">G', G''; Pa</text>
<text x="511.6" y="12.9" font-size="12" text-anchor="start" xml:space="preserve">b</text>
<text x="464.5" y="178.7" font-size="15.3" text-anchor="start" xml:space="preserve">ω, rad/s</text>
<circle cx="402" cy="106.3" r="2.3" fill="#3a3a3a"/>
<circle cx="428.1" cy="106.3" r="1.9" fill="#fff" stroke="#555555" stroke-width="1.15"/>
<text x="441.0" y="109.5" font-size="9.55" text-anchor="start" xml:space="preserve">40 wt% PPS + 1% A300</text>
<circle cx="402" cy="118.1" r="2.3" fill="#e23b3d"/>
<circle cx="428.1" cy="118.1" r="1.9" fill="#fff" stroke="#da5a5e" stroke-width="1.15"/>
<text x="441.0" y="121.3" font-size="9.55" text-anchor="start" xml:space="preserve">40 wt% PPS + 5%  Talc</text>
<circle cx="402" cy="129.9" r="2.3" fill="#1f5ec8"/>
<circle cx="428.1" cy="129.9" r="1.9" fill="#fff" stroke="#3a72cc" stroke-width="1.15"/>
<text x="441.0" y="133.1" font-size="9.55" text-anchor="start" xml:space="preserve">40 wt% PPS + 5% CF</text>
<circle cx="402" cy="141.7" r="2.3" fill="#2f9a5c"/>
<circle cx="428.1" cy="141.7" r="1.9" fill="#fff" stroke="#4aa472" stroke-width="1.15"/>
<text x="441.0" y="144.89999999999998" font-size="9.55" text-anchor="start" xml:space="preserve">40 wt% PPS + 10% Talc</text>
<circle cx="402" cy="153.5" r="2.3" fill="#a56ad6"/>
<circle cx="428.1" cy="153.5" r="1.9" fill="#fff" stroke="#ac84da" stroke-width="1.15"/>
<text x="441.0" y="156.7" font-size="9.55" text-anchor="start" xml:space="preserve">40 wt% PPS + 10% Chalk</text>
<circle cx="193.1" cy="263.5" r="2.35" fill="#3a3a3a"/>
<circle cx="201.8" cy="255.3" r="2.35" fill="#3a3a3a"/>
<circle cx="210.4" cy="261.1" r="2.35" fill="#3a3a3a"/>
<circle cx="219.1" cy="253.7" r="2.35" fill="#3a3a3a"/>
<circle cx="227.7" cy="250.0" r="2.35" fill="#3a3a3a"/>
<circle cx="236.3" cy="254.4" r="2.35" fill="#3a3a3a"/>
<circle cx="245.0" cy="251.2" r="2.35" fill="#3a3a3a"/>
<circle cx="253.7" cy="256.2" r="2.35" fill="#3a3a3a"/>
<circle cx="262.3" cy="247.5" r="2.35" fill="#3a3a3a"/>
<circle cx="270.9" cy="244.0" r="2.35" fill="#3a3a3a"/>
<circle cx="279.6" cy="242.2" r="2.35" fill="#3a3a3a"/>
<circle cx="288.2" cy="238.3" r="2.35" fill="#3a3a3a"/>
<circle cx="296.9" cy="234.7" r="2.35" fill="#3a3a3a"/>
<circle cx="305.6" cy="232.0" r="2.35" fill="#3a3a3a"/>
<circle cx="314.2" cy="228.4" r="2.35" fill="#3a3a3a"/>
<circle cx="322.9" cy="227.6" r="2.35" fill="#3a3a3a"/>
<circle cx="331.5" cy="225.0" r="2.35" fill="#3a3a3a"/>
<circle cx="340.1" cy="224.0" r="2.35" fill="#3a3a3a"/>
<circle cx="348.8" cy="227.0" r="2.35" fill="#3a3a3a"/>
<circle cx="193.1" cy="273.8" r="1.98" fill="#fff" stroke="#555555" stroke-width="1.15"/>
<circle cx="201.8" cy="273.8" r="1.98" fill="#fff" stroke="#555555" stroke-width="1.15"/>
<circle cx="210.4" cy="273.0" r="1.98" fill="#fff" stroke="#555555" stroke-width="1.15"/>
<circle cx="219.1" cy="270.7" r="1.98" fill="#fff" stroke="#555555" stroke-width="1.15"/>
<circle cx="227.7" cy="272.5" r="1.98" fill="#fff" stroke="#555555" stroke-width="1.15"/>
<circle cx="236.3" cy="269.0" r="1.98" fill="#fff" stroke="#555555" stroke-width="1.15"/>
<circle cx="245.0" cy="264.5" r="1.98" fill="#fff" stroke="#555555" stroke-width="1.15"/>
<circle cx="253.7" cy="262.0" r="1.98" fill="#fff" stroke="#555555" stroke-width="1.15"/>
<circle cx="262.3" cy="255.0" r="1.98" fill="#fff" stroke="#555555" stroke-width="1.15"/>
<circle cx="270.9" cy="252.8" r="1.98" fill="#fff" stroke="#555555" stroke-width="1.15"/>
<circle cx="279.6" cy="249.5" r="1.98" fill="#fff" stroke="#555555" stroke-width="1.15"/>
<circle cx="288.2" cy="246.5" r="1.98" fill="#fff" stroke="#555555" stroke-width="1.15"/>
<circle cx="296.9" cy="242.8" r="1.98" fill="#fff" stroke="#555555" stroke-width="1.15"/>
<circle cx="305.6" cy="236.0" r="1.98" fill="#fff" stroke="#555555" stroke-width="1.15"/>
<circle cx="314.2" cy="233.0" r="1.98" fill="#fff" stroke="#555555" stroke-width="1.15"/>
<circle cx="322.9" cy="229.5" r="1.98" fill="#fff" stroke="#555555" stroke-width="1.15"/>
<circle cx="331.5" cy="226.0" r="1.98" fill="#fff" stroke="#555555" stroke-width="1.15"/>
<circle cx="340.1" cy="221.0" r="1.98" fill="#fff" stroke="#555555" stroke-width="1.15"/>
<circle cx="348.8" cy="226.0" r="1.98" fill="#fff" stroke="#555555" stroke-width="1.15"/>
<circle cx="193.1" cy="252.3" r="2.35" fill="#e23b3d"/>
<circle cx="201.8" cy="248.2" r="2.35" fill="#e23b3d"/>
<circle cx="210.4" cy="253.3" r="2.35" fill="#e23b3d"/>
<circle cx="219.1" cy="248.1" r="2.35" fill="#e23b3d"/>
<circle cx="227.7" cy="245.5" r="2.35" fill="#e23b3d"/>
<circle cx="236.3" cy="248.9" r="2.35" fill="#e23b3d"/>
<circle cx="245.0" cy="245.7" r="2.35" fill="#e23b3d"/>
<circle cx="253.7" cy="247.8" r="2.35" fill="#e23b3d"/>
<circle cx="262.3" cy="242.7" r="2.35" fill="#e23b3d"/>
<circle cx="270.9" cy="241.0" r="2.35" fill="#e23b3d"/>
<circle cx="279.6" cy="237.4" r="2.35" fill="#e23b3d"/>
<circle cx="288.2" cy="234.9" r="2.35" fill="#e23b3d"/>
<circle cx="296.9" cy="231.6" r="2.35" fill="#e23b3d"/>
<circle cx="305.6" cy="229.2" r="2.35" fill="#e23b3d"/>
<circle cx="314.2" cy="225.8" r="2.35" fill="#e23b3d"/>
<circle cx="322.9" cy="224.9" r="2.35" fill="#e23b3d"/>
<circle cx="331.5" cy="222.6" r="2.35" fill="#e23b3d"/>
<circle cx="340.1" cy="221.5" r="2.35" fill="#e23b3d"/>
<circle cx="348.8" cy="225.3" r="2.35" fill="#e23b3d"/>
<circle cx="193.1" cy="273.3" r="1.98" fill="#fff" stroke="#da5a5e" stroke-width="1.15"/>
<circle cx="201.8" cy="273.3" r="1.98" fill="#fff" stroke="#da5a5e" stroke-width="1.15"/>
<circle cx="210.4" cy="272.5" r="1.98" fill="#fff" stroke="#da5a5e" stroke-width="1.15"/>
<circle cx="219.1" cy="270.2" r="1.98" fill="#fff" stroke="#da5a5e" stroke-width="1.15"/>
<circle cx="227.7" cy="272.1" r="1.98" fill="#fff" stroke="#da5a5e" stroke-width="1.15"/>
<circle cx="236.3" cy="268.5" r="1.98" fill="#fff" stroke="#da5a5e" stroke-width="1.15"/>
<circle cx="245.0" cy="264.0" r="1.98" fill="#fff" stroke="#da5a5e" stroke-width="1.15"/>
<circle cx="253.7" cy="261.5" r="1.98" fill="#fff" stroke="#da5a5e" stroke-width="1.15"/>
<circle cx="262.3" cy="254.4" r="1.98" fill="#fff" stroke="#da5a5e" stroke-width="1.15"/>
<circle cx="270.9" cy="252.3" r="1.98" fill="#fff" stroke="#da5a5e" stroke-width="1.15"/>
<circle cx="279.6" cy="249.0" r="1.98" fill="#fff" stroke="#da5a5e" stroke-width="1.15"/>
<circle cx="288.2" cy="246.2" r="1.98" fill="#fff" stroke="#da5a5e" stroke-width="1.15"/>
<circle cx="296.9" cy="242.6" r="1.98" fill="#fff" stroke="#da5a5e" stroke-width="1.15"/>
<circle cx="305.6" cy="235.6" r="1.98" fill="#fff" stroke="#da5a5e" stroke-width="1.15"/>
<circle cx="314.2" cy="232.9" r="1.98" fill="#fff" stroke="#da5a5e" stroke-width="1.15"/>
<circle cx="322.9" cy="229.5" r="1.98" fill="#fff" stroke="#da5a5e" stroke-width="1.15"/>
<circle cx="331.5" cy="225.8" r="1.98" fill="#fff" stroke="#da5a5e" stroke-width="1.15"/>
<circle cx="340.1" cy="220.9" r="1.98" fill="#fff" stroke="#da5a5e" stroke-width="1.15"/>
<circle cx="348.8" cy="225.8" r="1.98" fill="#fff" stroke="#da5a5e" stroke-width="1.15"/>
<circle cx="193.1" cy="270.2" r="2.35" fill="#1f5ec8"/>
<circle cx="201.8" cy="262.4" r="2.35" fill="#1f5ec8"/>
<circle cx="210.4" cy="266.4" r="2.35" fill="#1f5ec8"/>
<circle cx="219.1" cy="259.1" r="2.35" fill="#1f5ec8"/>
<circle cx="227.7" cy="255.2" r="2.35" fill="#1f5ec8"/>
<circle cx="236.3" cy="259.3" r="2.35" fill="#1f5ec8"/>
<circle cx="245.0" cy="256.5" r="2.35" fill="#1f5ec8"/>
<circle cx="253.7" cy="259.5" r="2.35" fill="#1f5ec8"/>
<circle cx="262.3" cy="252.3" r="2.35" fill="#1f5ec8"/>
<circle cx="270.9" cy="248.6" r="2.35" fill="#1f5ec8"/>
<circle cx="279.6" cy="246.5" r="2.35" fill="#1f5ec8"/>
<circle cx="288.2" cy="242.5" r="2.35" fill="#1f5ec8"/>
<circle cx="296.9" cy="237.5" r="2.35" fill="#1f5ec8"/>
<circle cx="305.6" cy="235.2" r="2.35" fill="#1f5ec8"/>
<circle cx="314.2" cy="232.6" r="2.35" fill="#1f5ec8"/>
<circle cx="322.9" cy="231.3" r="2.35" fill="#1f5ec8"/>
<circle cx="331.5" cy="227.8" r="2.35" fill="#1f5ec8"/>
<circle cx="340.1" cy="229.1" r="2.35" fill="#1f5ec8"/>
<circle cx="348.8" cy="229.1" r="2.35" fill="#1f5ec8"/>
<circle cx="193.1" cy="281.0" r="1.98" fill="#fff" stroke="#3a72cc" stroke-width="1.15"/>
<circle cx="201.8" cy="280.4" r="1.98" fill="#fff" stroke="#3a72cc" stroke-width="1.15"/>
<circle cx="210.4" cy="279.3" r="1.98" fill="#fff" stroke="#3a72cc" stroke-width="1.15"/>
<circle cx="219.1" cy="277.1" r="1.98" fill="#fff" stroke="#3a72cc" stroke-width="1.15"/>
<circle cx="227.7" cy="277.6" r="1.98" fill="#fff" stroke="#3a72cc" stroke-width="1.15"/>
<circle cx="236.3" cy="273.7" r="1.98" fill="#fff" stroke="#3a72cc" stroke-width="1.15"/>
<circle cx="245.0" cy="268.4" r="1.98" fill="#fff" stroke="#3a72cc" stroke-width="1.15"/>
<circle cx="253.7" cy="262.6" r="1.98" fill="#fff" stroke="#3a72cc" stroke-width="1.15"/>
<circle cx="262.3" cy="256.9" r="1.98" fill="#fff" stroke="#3a72cc" stroke-width="1.15"/>
<circle cx="270.9" cy="256.9" r="1.98" fill="#fff" stroke="#3a72cc" stroke-width="1.15"/>
<circle cx="279.6" cy="251.7" r="1.98" fill="#fff" stroke="#3a72cc" stroke-width="1.15"/>
<circle cx="288.2" cy="249.5" r="1.98" fill="#fff" stroke="#3a72cc" stroke-width="1.15"/>
<circle cx="296.9" cy="246.2" r="1.98" fill="#fff" stroke="#3a72cc" stroke-width="1.15"/>
<circle cx="305.6" cy="240.5" r="1.98" fill="#fff" stroke="#3a72cc" stroke-width="1.15"/>
<circle cx="314.2" cy="236.7" r="1.98" fill="#fff" stroke="#3a72cc" stroke-width="1.15"/>
<circle cx="322.9" cy="231.3" r="1.98" fill="#fff" stroke="#3a72cc" stroke-width="1.15"/>
<circle cx="331.5" cy="228.0" r="1.98" fill="#fff" stroke="#3a72cc" stroke-width="1.15"/>
<circle cx="340.1" cy="225.8" r="1.98" fill="#fff" stroke="#3a72cc" stroke-width="1.15"/>
<circle cx="348.8" cy="231.8" r="1.98" fill="#fff" stroke="#3a72cc" stroke-width="1.15"/>
<circle cx="193.1" cy="352.0" r="2.35" fill="#2f9a5c"/>
<circle cx="201.8" cy="342.3" r="2.35" fill="#2f9a5c"/>
<circle cx="210.4" cy="332.4" r="2.35" fill="#2f9a5c"/>
<circle cx="219.1" cy="321.5" r="2.35" fill="#2f9a5c"/>
<circle cx="227.7" cy="308.4" r="2.35" fill="#2f9a5c"/>
<circle cx="236.3" cy="304.2" r="2.35" fill="#2f9a5c"/>
<circle cx="245.0" cy="293.0" r="2.35" fill="#2f9a5c"/>
<circle cx="253.7" cy="288.6" r="2.35" fill="#2f9a5c"/>
<circle cx="262.3" cy="284.3" r="2.35" fill="#2f9a5c"/>
<circle cx="270.9" cy="278.2" r="2.35" fill="#2f9a5c"/>
<circle cx="279.6" cy="272.7" r="2.35" fill="#2f9a5c"/>
<circle cx="288.2" cy="265.5" r="2.35" fill="#2f9a5c"/>
<circle cx="296.9" cy="259.6" r="2.35" fill="#2f9a5c"/>
<circle cx="305.6" cy="255.9" r="2.35" fill="#2f9a5c"/>
<circle cx="314.2" cy="250.6" r="2.35" fill="#2f9a5c"/>
<circle cx="322.9" cy="247.2" r="2.35" fill="#2f9a5c"/>
<circle cx="331.5" cy="243.8" r="2.35" fill="#2f9a5c"/>
<circle cx="340.1" cy="243.8" r="2.35" fill="#2f9a5c"/>
<circle cx="348.8" cy="237.8" r="2.35" fill="#2f9a5c"/>
<circle cx="193.1" cy="326.9" r="1.98" fill="#fff" stroke="#4aa472" stroke-width="1.15"/>
<circle cx="201.8" cy="318.9" r="1.98" fill="#fff" stroke="#4aa472" stroke-width="1.15"/>
<circle cx="210.4" cy="311.8" r="1.98" fill="#fff" stroke="#4aa472" stroke-width="1.15"/>
<circle cx="219.1" cy="304.3" r="1.98" fill="#fff" stroke="#4aa472" stroke-width="1.15"/>
<circle cx="227.7" cy="297.1" r="1.98" fill="#fff" stroke="#4aa472" stroke-width="1.15"/>
<circle cx="236.3" cy="293.0" r="1.98" fill="#fff" stroke="#4aa472" stroke-width="1.15"/>
<circle cx="245.0" cy="288.9" r="1.98" fill="#fff" stroke="#4aa472" stroke-width="1.15"/>
<circle cx="253.7" cy="284.0" r="1.98" fill="#fff" stroke="#4aa472" stroke-width="1.15"/>
<circle cx="262.3" cy="280.0" r="1.98" fill="#fff" stroke="#4aa472" stroke-width="1.15"/>
<circle cx="270.9" cy="274.0" r="1.98" fill="#fff" stroke="#4aa472" stroke-width="1.15"/>
<circle cx="279.6" cy="269.5" r="1.98" fill="#fff" stroke="#4aa472" stroke-width="1.15"/>
<circle cx="288.2" cy="264.5" r="1.98" fill="#fff" stroke="#4aa472" stroke-width="1.15"/>
<circle cx="296.9" cy="260.0" r="1.98" fill="#fff" stroke="#4aa472" stroke-width="1.15"/>
<circle cx="305.6" cy="255.0" r="1.98" fill="#fff" stroke="#4aa472" stroke-width="1.15"/>
<circle cx="314.2" cy="249.5" r="1.98" fill="#fff" stroke="#4aa472" stroke-width="1.15"/>
<circle cx="322.9" cy="244.0" r="1.98" fill="#fff" stroke="#4aa472" stroke-width="1.15"/>
<circle cx="331.5" cy="240.5" r="1.98" fill="#fff" stroke="#4aa472" stroke-width="1.15"/>
<circle cx="340.1" cy="238.4" r="1.98" fill="#fff" stroke="#4aa472" stroke-width="1.15"/>
<circle cx="348.8" cy="237.6" r="1.98" fill="#fff" stroke="#4aa472" stroke-width="1.15"/>
<circle cx="193.1" cy="315.9" r="2.35" fill="#a56ad6"/>
<circle cx="201.8" cy="312.1" r="2.35" fill="#a56ad6"/>
<circle cx="210.4" cy="306.1" r="2.35" fill="#a56ad6"/>
<circle cx="219.1" cy="300.0" r="2.35" fill="#a56ad6"/>
<circle cx="227.7" cy="293.0" r="2.35" fill="#a56ad6"/>
<circle cx="236.3" cy="291.2" r="2.35" fill="#a56ad6"/>
<circle cx="245.0" cy="287.0" r="2.35" fill="#a56ad6"/>
<circle cx="253.7" cy="283.4" r="2.35" fill="#a56ad6"/>
<circle cx="262.3" cy="279.2" r="2.35" fill="#a56ad6"/>
<circle cx="270.9" cy="271.6" r="2.35" fill="#a56ad6"/>
<circle cx="279.6" cy="266.6" r="2.35" fill="#a56ad6"/>
<circle cx="288.2" cy="263.0" r="2.35" fill="#a56ad6"/>
<circle cx="296.9" cy="258.0" r="2.35" fill="#a56ad6"/>
<circle cx="305.6" cy="253.0" r="2.35" fill="#a56ad6"/>
<circle cx="314.2" cy="249.0" r="2.35" fill="#a56ad6"/>
<circle cx="322.9" cy="243.9" r="2.35" fill="#a56ad6"/>
<circle cx="331.5" cy="240.5" r="2.35" fill="#a56ad6"/>
<circle cx="340.1" cy="238.4" r="2.35" fill="#a56ad6"/>
<circle cx="348.8" cy="236.2" r="2.35" fill="#a56ad6"/>
<circle cx="193.1" cy="312.1" r="1.98" fill="#fff" stroke="#ac84da" stroke-width="1.15"/>
<circle cx="201.8" cy="307.6" r="1.98" fill="#fff" stroke="#ac84da" stroke-width="1.15"/>
<circle cx="210.4" cy="302.3" r="1.98" fill="#fff" stroke="#ac84da" stroke-width="1.15"/>
<circle cx="219.1" cy="297.1" r="1.98" fill="#fff" stroke="#ac84da" stroke-width="1.15"/>
<circle cx="227.7" cy="291.3" r="1.98" fill="#fff" stroke="#ac84da" stroke-width="1.15"/>
<circle cx="236.3" cy="287.8" r="1.98" fill="#fff" stroke="#ac84da" stroke-width="1.15"/>
<circle cx="245.0" cy="283.8" r="1.98" fill="#fff" stroke="#ac84da" stroke-width="1.15"/>
<circle cx="253.7" cy="280.3" r="1.98" fill="#fff" stroke="#ac84da" stroke-width="1.15"/>
<circle cx="262.3" cy="275.7" r="1.98" fill="#fff" stroke="#ac84da" stroke-width="1.15"/>
<circle cx="270.9" cy="268.1" r="1.98" fill="#fff" stroke="#ac84da" stroke-width="1.15"/>
<circle cx="279.6" cy="264.0" r="1.98" fill="#fff" stroke="#ac84da" stroke-width="1.15"/>
<circle cx="288.2" cy="260.0" r="1.98" fill="#fff" stroke="#ac84da" stroke-width="1.15"/>
<circle cx="296.9" cy="255.5" r="1.98" fill="#fff" stroke="#ac84da" stroke-width="1.15"/>
<circle cx="305.6" cy="250.6" r="1.98" fill="#fff" stroke="#ac84da" stroke-width="1.15"/>
<circle cx="314.2" cy="245.0" r="1.98" fill="#fff" stroke="#ac84da" stroke-width="1.15"/>
<circle cx="322.9" cy="240.5" r="1.98" fill="#fff" stroke="#ac84da" stroke-width="1.15"/>
<circle cx="331.5" cy="236.7" r="1.98" fill="#fff" stroke="#ac84da" stroke-width="1.15"/>
<circle cx="340.1" cy="234.9" r="1.98" fill="#fff" stroke="#ac84da" stroke-width="1.15"/>
<circle cx="348.8" cy="242.2" r="1.98" fill="#fff" stroke="#ac84da" stroke-width="1.15"/>
<line x1="176.9" y1="208.3" x2="176.9" y2="379.85" stroke="#000" stroke-width="2.1"/>
<line x1="175.85" y1="378.8" x2="376.2" y2="378.8" stroke="#000" stroke-width="2.1"/>
<line x1="173.70000000000002" y1="253.3" x2="176.9" y2="253.3" stroke="#000" stroke-width="1.8"/>
<text x="154.9" y="259.90000000000003" font-size="12.3" text-anchor="start" xml:space="preserve">10</text>
<text x="167.1" y="254.9" font-size="7.4" text-anchor="start" xml:space="preserve">5</text>
<line x1="173.70000000000002" y1="316.1" x2="176.9" y2="316.1" stroke="#000" stroke-width="1.8"/>
<text x="154.9" y="322.70000000000005" font-size="12.3" text-anchor="start" xml:space="preserve">10</text>
<text x="167.1" y="317.70000000000005" font-size="7.4" text-anchor="start" xml:space="preserve">4</text>
<line x1="173.70000000000002" y1="379" x2="176.9" y2="379" stroke="#000" stroke-width="1.8"/>
<text x="154.9" y="385.6" font-size="12.3" text-anchor="start" xml:space="preserve">10</text>
<text x="167.1" y="380.6" font-size="7.4" text-anchor="start" xml:space="preserve">3</text>
<line x1="203.5" y1="378.8" x2="203.5" y2="382.3" stroke="#000" stroke-width="1.8"/>
<text x="196.2" y="395.3" font-size="12.3" text-anchor="start" xml:space="preserve">10</text>
<text x="208.2" y="390.3" font-size="7.4" text-anchor="start" xml:space="preserve">0</text>
<line x1="255.3" y1="378.8" x2="255.3" y2="382.3" stroke="#000" stroke-width="1.8"/>
<text x="248.0" y="395.3" font-size="12.3" text-anchor="start" xml:space="preserve">10</text>
<text x="260.0" y="390.3" font-size="7.4" text-anchor="start" xml:space="preserve">1</text>
<line x1="307.2" y1="378.8" x2="307.2" y2="382.3" stroke="#000" stroke-width="1.8"/>
<text x="299.9" y="395.3" font-size="12.3" text-anchor="start" xml:space="preserve">10</text>
<text x="311.9" y="390.3" font-size="7.4" text-anchor="start" xml:space="preserve">2</text>
<line x1="359.3" y1="378.8" x2="359.3" y2="382.3" stroke="#000" stroke-width="1.8"/>
<text x="352.0" y="395.3" font-size="12.3" text-anchor="start" xml:space="preserve">10</text>
<text x="364.0" y="390.3" font-size="7.4" text-anchor="start" xml:space="preserve">3</text>
<text x="181.0" y="222.8" font-size="15.6" text-anchor="start" xml:space="preserve">G', G''; Pa</text>
<text x="369" y="216.6" font-size="11.6" text-anchor="start" xml:space="preserve">c</text>
<text x="329" y="373.5" font-size="15.3" text-anchor="start" xml:space="preserve">ω, rad/s</text>
<circle cx="249.1" cy="306.1" r="2.3" fill="#3a3a3a"/>
<circle cx="275.5" cy="306.1" r="1.9" fill="#fff" stroke="#555555" stroke-width="1.15"/>
<text x="288.7" y="309.40000000000003" font-size="9.75" text-anchor="start" xml:space="preserve">40 wt% PPS + 1% A300</text>
<circle cx="249.1" cy="318.05" r="2.3" fill="#e23b3d"/>
<circle cx="275.5" cy="318.05" r="1.9" fill="#fff" stroke="#da5a5e" stroke-width="1.15"/>
<text x="288.7" y="321.35" font-size="9.75" text-anchor="start" xml:space="preserve">40 wt% PPS + 5%  Talc</text>
<circle cx="249.1" cy="330.0" r="2.3" fill="#1f5ec8"/>
<circle cx="275.5" cy="330.0" r="1.9" fill="#fff" stroke="#3a72cc" stroke-width="1.15"/>
<text x="288.7" y="333.3" font-size="9.75" text-anchor="start" xml:space="preserve">40 wt% PPS + 5% CF</text>
<circle cx="249.1" cy="341.95000000000005" r="2.3" fill="#2f9a5c"/>
<circle cx="275.5" cy="341.95000000000005" r="1.9" fill="#fff" stroke="#4aa472" stroke-width="1.15"/>
<text x="288.7" y="345.25000000000006" font-size="9.75" text-anchor="start" xml:space="preserve">40 wt% PPS + 10% Talc</text>
<circle cx="249.1" cy="353.90000000000003" r="2.3" fill="#a56ad6"/>
<circle cx="275.5" cy="353.90000000000003" r="1.9" fill="#fff" stroke="#ac84da" stroke-width="1.15"/>
<text x="288.7" y="357.20000000000005" font-size="9.75" text-anchor="start" xml:space="preserve">40 wt% PPS + 10% Chalk</text>
</svg></body></html>
